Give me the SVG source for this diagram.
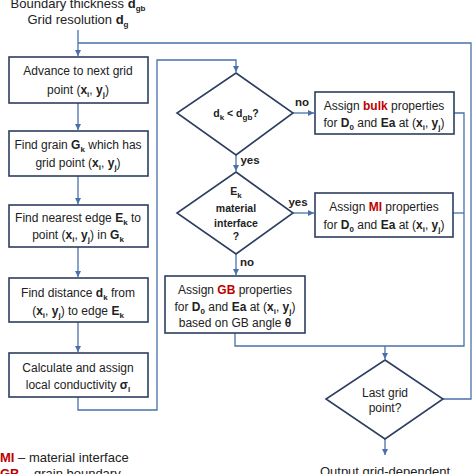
<svg xmlns="http://www.w3.org/2000/svg" width="474" height="474" viewBox="0 0 474 474">
<defs>
<style>
text{font-family:"Liberation Sans",Arial,sans-serif;font-size:12px;fill:#222;text-anchor:middle}
.b{font-weight:bold}
.r{fill:#c00000;font-weight:bold}
.s{font-size:8px;font-weight:bold}
.sm{font-size:10.5px;font-weight:bold}
.lb{font-size:11.5px;font-weight:bold}
.box{fill:#fff;stroke:#2e3e60;stroke-width:1.6}
.ln{fill:none;stroke:#4a70aa;stroke-width:1.3}
</style>
<marker id="ar" viewBox="0 0 6 6" refX="6" refY="3" markerWidth="5" markerHeight="5" orient="auto">
<path d="M0,0 L6,3 L0,6 z" fill="#4a70aa"/>
</marker>
</defs>
<rect width="474" height="474" fill="#fff"/>

<g id="inputs">
<text x="78" y="8" style="font-size:13px">Boundary thickness <tspan class="b">d</tspan><tspan class="s" dy="3">gb</tspan></text>
<text x="78" y="24" style="font-size:13px">Grid resolution <tspan class="b">d</tspan><tspan class="s" dy="3">g</tspan></text>
</g>

<g id="connectors">
<path class="ln" d="M78,30 V56" marker-end="url(#ar)"/>
<path class="ln" d="M443,399 H471 V43 H78"/>
<path class="ln" d="M78,103 V130" marker-end="url(#ar)"/>
<path class="ln" d="M78,176 V204" marker-end="url(#ar)"/>
<path class="ln" d="M78,247 V277" marker-end="url(#ar)"/>
<path class="ln" d="M78,322 V352" marker-end="url(#ar)"/>
<path class="ln" d="M78,397 V410 H157 V60 H236 V72" marker-end="url(#ar)"/>
<path class="ln" d="M293,113 H314" marker-end="url(#ar)"/>
<path class="ln" d="M236,155 V171" marker-end="url(#ar)"/>
<path class="ln" d="M293,213 H314" marker-end="url(#ar)"/>
<path class="ln" d="M236,254 V275" marker-end="url(#ar)"/>
<path class="ln" d="M454,113 H464 V346 H235 V333"/>
<path class="ln" d="M453,213 H464"/>
<path class="ln" d="M385,346 V359" marker-end="url(#ar)"/>
<path class="ln" d="M385,439 V455" marker-end="url(#ar)"/>
<text class="lb" x="302" y="106">no</text>
<text class="lb" x="250" y="164">yes</text>
<text class="lb" x="298" y="206">yes</text>
<text class="lb" x="247" y="266">no</text>
</g>

<g id="n1">
<rect class="box" x="9" y="57" width="139" height="46"/>
<text x="78" y="75">Advance to next grid</text>
<text x="78" y="94">point (<tspan class="b">x</tspan><tspan class="s" dy="3">i</tspan><tspan dy="-3">, </tspan><tspan class="b">y</tspan><tspan class="s" dy="3">j</tspan><tspan dy="-3">)</tspan></text>
</g>
<g id="n2">
<rect class="box" x="9" y="131" width="139" height="45"/>
<text x="78" y="149">Find grain <tspan class="b">G</tspan><tspan class="s" dy="3">k</tspan><tspan dy="-3"> which has</tspan></text>
<text x="78" y="167">grid point (<tspan class="b">x</tspan><tspan class="s" dy="3">i</tspan><tspan dy="-3">, </tspan><tspan class="b">y</tspan><tspan class="s" dy="3">j</tspan><tspan dy="-3">)</tspan></text>
</g>
<g id="n3">
<rect class="box" x="9" y="205" width="139" height="42"/>
<text x="78" y="222">Find nearest edge <tspan class="b">E</tspan><tspan class="s" dy="3">k</tspan><tspan dy="-3"> to</tspan></text>
<text x="78" y="239">point (<tspan class="b">x</tspan><tspan class="s" dy="3">i</tspan><tspan dy="-3">, </tspan><tspan class="b">y</tspan><tspan class="s" dy="3">j</tspan><tspan dy="-3">) in </tspan><tspan class="b">G</tspan><tspan class="s" dy="3">k</tspan></text>
</g>
<g id="n4">
<rect class="box" x="9" y="278" width="139" height="44"/>
<text x="78" y="297">Find distance <tspan class="b">d</tspan><tspan class="s" dy="3">k</tspan><tspan dy="-3"> from</tspan></text>
<text x="78" y="315">(<tspan class="b">x</tspan><tspan class="s" dy="3">i</tspan><tspan dy="-3">, </tspan><tspan class="b">y</tspan><tspan class="s" dy="3">j</tspan><tspan dy="-3">) to edge </tspan><tspan class="b">E</tspan><tspan class="s" dy="3">k</tspan></text>
</g>
<g id="n5">
<rect class="box" x="9" y="353" width="139" height="44"/>
<text x="78" y="372">Calculate and assign</text>
<text x="78" y="389">local conductivity <tspan class="b">σ</tspan><tspan class="s" dy="3">l</tspan></text>
</g>

<g id="d1">
<polygon class="box" points="236,73 293,113 236,155 177,113"/>
<text class="sm" x="236" y="117">d<tspan class="s" dy="3">k</tspan><tspan dy="-3"> &lt; d</tspan><tspan class="s" dy="3">gb</tspan><tspan dy="-3">?</tspan></text>
</g>
<g id="bulk">
<rect class="box" x="315" y="92" width="139" height="42"/>
<text x="384" y="110">Assign <tspan class="r">bulk</tspan> properties</text>
<text x="384" y="127">for <tspan class="b">D</tspan><tspan class="s" dy="3">0</tspan><tspan dy="-3"> and </tspan><tspan class="b">Ea</tspan> at (<tspan class="b">x</tspan><tspan class="s" dy="3">i</tspan><tspan dy="-3">, </tspan><tspan class="b">y</tspan><tspan class="s" dy="3">j</tspan><tspan dy="-3">)</tspan></text>
</g>
<g id="d2">
<polygon class="box" points="236,172 293,213 236,254 177,213"/>
<text class="sm" x="236" y="195">E<tspan class="s" dy="3">k</tspan></text>
<text class="sm" x="236" y="212">material</text>
<text class="sm" x="236" y="227">interface</text>
<text class="sm" x="236" y="240">?</text>
</g>
<g id="mi">
<rect class="box" x="315" y="193" width="138" height="44"/>
<text x="384" y="211">Assign <tspan class="r">MI</tspan> properties</text>
<text x="384" y="229">for <tspan class="b">D</tspan><tspan class="s" dy="3">0</tspan><tspan dy="-3"> and </tspan><tspan class="b">Ea</tspan> at (<tspan class="b">x</tspan><tspan class="s" dy="3">i</tspan><tspan dy="-3">, </tspan><tspan class="b">y</tspan><tspan class="s" dy="3">j</tspan><tspan dy="-3">)</tspan></text>
</g>
<g id="gb">
<rect class="box" x="165" y="276" width="140" height="57"/>
<text x="235" y="294">Assign <tspan class="r">GB</tspan> properties</text>
<text x="235" y="311">for <tspan class="b">D</tspan><tspan class="s" dy="3">0</tspan><tspan dy="-3"> and </tspan><tspan class="b">Ea</tspan> at (<tspan class="b">x</tspan><tspan class="s" dy="3">i</tspan><tspan dy="-3">, </tspan><tspan class="b">y</tspan><tspan class="s" dy="3">j</tspan><tspan dy="-3">)</tspan></text>
<text x="235" y="327">based on GB angle <tspan class="b">θ</tspan></text>
</g>
<g id="d3">
<polygon class="box" points="385,360 443,399 385,439 326,399"/>
<text x="385" y="397">Last grid</text>
<text x="385" y="412">point?</text>
</g>
<g id="output">
<text x="385" y="476" style="font-size:13px">Output grid-dependent</text>
</g>
<g id="legend">
<text x="0" y="462" style="text-anchor:start;font-size:13px"><tspan class="r">MI</tspan> – material interface</text>
<text x="0" y="478" style="text-anchor:start;font-size:13px"><tspan class="r">GB</tspan> – grain boundary</text>
</g>
</svg>
